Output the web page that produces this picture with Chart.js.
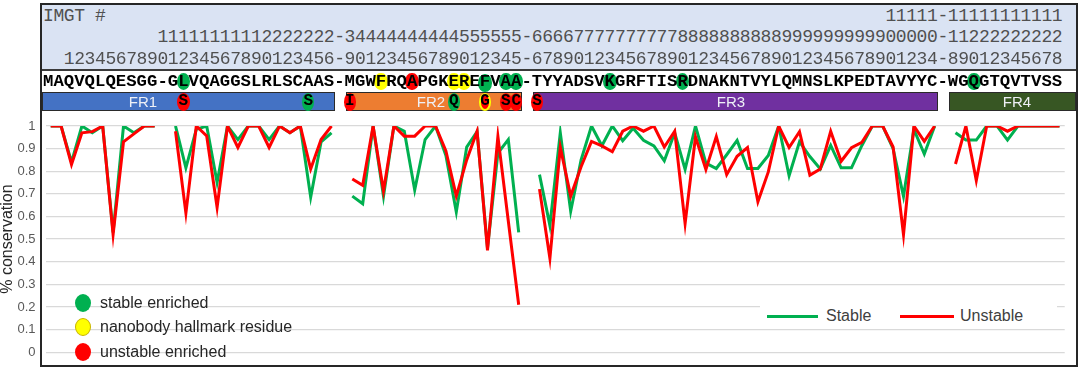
<!DOCTYPE html>
<html>
<head>
<meta charset="utf-8">
<script src="https://cdn.jsdelivr.net/npm/chart.js@4.4.1/dist/chart.umd.min.js"></script>
<style>
html,body{margin:0;padding:0;background:#fff;}
#wrap{position:relative;width:1080px;height:370px;overflow:hidden;font-family:"Liberation Sans",Arial,sans-serif;}
#c{position:absolute;left:0;top:0;}
.abs{position:absolute;}
.row{position:absolute;left:43px;white-space:nowrap;font-family:"Liberation Mono","Courier New",monospace;z-index:5;}
.ch{position:absolute;top:0;width:10.4px;text-align:center;}
.hdr{font-size:18px;color:#505050;}
.seq{font-size:17.3px;font-weight:bold;color:#000;}
.dot{position:absolute;border-radius:50%;z-index:4;}
.bar{position:absolute;box-sizing:border-box;border:1.5px solid #2a2a2a;z-index:2;}
.frlab{position:absolute;z-index:3;color:#eef0f6;font-size:15px;transform:translateX(-50%);line-height:19px;}
.mk{position:absolute;z-index:5;font-family:"Liberation Mono","Courier New",monospace;font-weight:bold;font-size:16px;color:#000;text-align:center;}
.leg{position:absolute;font-size:16px;color:#262626;line-height:20px;}
</style>
</head>
<body>
<div id="wrap">
<canvas id="c" width="1080" height="370"></canvas>
</div>
<script>
// ---------------- data ----------------
const categories = "MAQVQLQESGG-GLVQAGGSLRLSCAAS-MGWFRQAPGKEREFVAA-TYYADSVKGRFTISRDNAKNTVYLQMNSLKPEDTAVYYC-WGQGTQVTVSS".split('');

const stable = [
  1, 1, 0.84, 1, 0.97, 1, 0.53, 1, 0.97, 1, 1,
  null,
  1, 0.815, 0.985, 1, 0.75, 1, 0.94, 1, 1, 0.94, 1, 0.97, 1, 0.685, 0.93, 0.97,
  null,
  0.69, 0.656, 1, 0.689, 1, 0.977, 0.717, 0.94, 1, 0.87, 0.62, 0.907, 0.975, 0.46, 0.88, 0.94, 0.53,
  null,
  0.785, 0.56, 0.97, 0.623, 0.85, 1, 0.913, 1, 0.935, 0.99, 0.937, 0.912, 0.846, 0.97, 0.808, 1,
  0.836, 0.812, 0.873, 0.936, 0.812, 0.812, 0.87, 1, 0.78, 0.93, 0.865, 0.81, 0.914, 0.815, 0.815,
  0.914, 1, 1, 0.9, 0.689, 0.985, 0.876, 1,
  null,
  0.97, 0.938, 0.938, 1, 1, 0.938, 1, 1, 1, 1, 1
];

const unstable = [
  1, 1, 0.83, 0.97, 0.975, 1, 0.52, 0.93, 0.965, 1, 1,
  null,
  0.977, 0.615, 1, 0.956, 0.64, 1, 0.905, 1, 1, 0.905, 1, 0.97, 1, 0.81, 0.94, 1,
  null,
  0.766, 0.738, 1, 0.713, 1, 0.955, 0.955, 1, 1, 0.89, 0.69, 0.85, 0.977, 0.45, 0.954, 0.58, 0.21,
  null,
  0.721, 0.415, 0.905, 0.69, 0.82, 0.932, 0.912, 0.886, 0.977, 1, 0.977, 1, 0.907, 0.977, 0.569, 0.952,
  0.808, 0.953, 0.785, 0.866, 0.905, 0.665, 0.797, 1, 0.905, 0.975, 0.783, 0.81, 0.977, 0.844, 0.904,
  0.928, 1, 1, 0.907, 0.52, 1, 0.932, 1,
  null,
  0.832, 1, 0.759, 1, 1, 0.977, 1, 1, 1, 1, 1
];

const yTickLabels = ['0','0.1','0.2','0.3','0.4','0.5','0.6','0.7','0.8','0.9','1'];

const imgtRow1 = "IMGT #" + " ".repeat(75) + "11111-11111111111";
const imgtRow2 = "  " + " ".repeat(9) + "1111111111" + "2222222" + "-" + "34444444444555555" + "-" +
                 "666677777777778888888888999999999900000" + "-" + "11222222222";
const imgtRow3 = "  " + "12345678901234567890123456" + "-" + "90123456789012345" + "-" +
                 "678901234567890123456789012345678901234" + "-" + "89012345678";

// sequence-row highlights: [char index (1-based), kind]
const seqMarks = [[14,'s'],[33,'h'],[36,'u'],[40,'h'],[41,'h'],[43,'s'],[45,'s'],[46,'s'],[55,'s'],[62,'s'],[90,'s']];
// region-row residues: [char index, letter, kind, hallmark ring]
const barMarks = [[14,'S','u',0],[26,'S','s',0],[30,'I','u',0],[40,'Q','s',0],[43,'G','u',1],[45,'S','u',0],[46,'C','u',0],[48,'S','u',0]];
// framework regions: [name, first char, last char, colour, label centre]
const regions = [['FR1',1,28,'#4472c4',143],['FR2',30,46,'#ed7d31',431],['FR3',48,86,'#7030a0',731],['FR4',88,98,'#375623',1017]];

const markColors = {s:'#00b050', h:'#ffff00', u:'#ff0000'};
const legendItems = [['stable enriched','s'],['nanobody hallmark residue','h'],['unstable enriched','u']];
const seriesNames = ['Stable','Unstable'];

// ---------------- layout helpers ----------------
const W = 10.4, X0 = 43;
const wrap = document.getElementById('wrap');
const cc = c => X0 + (c - 0.5) * W;
function el(cls, css, txt){ const d=document.createElement('div'); d.className=cls; Object.assign(d.style, css); if(txt!==undefined) d.textContent=txt; wrap.appendChild(d); return d; }

// frame + header panel
el('abs', {left:'42px',top:'5px',width:'1034px',height:'64px',background:'#dae3f3',zIndex:1});
el('abs', {left:'42px',top:'69px',width:'1034px',height:'2px',background:'#3a3a3a',zIndex:1});

function buildRow(str, top, h, cls){
  const row = el('row '+cls, {top:top+'px',height:h+'px',lineHeight:h+'px'});
  for(let i=0;i<str.length;i++){
    if(str[i]===' ') continue;
    const s=document.createElement('span'); s.className='ch';
    s.style.left=(i*W)+'px'; s.style.height=h+'px'; s.textContent=str[i]; row.appendChild(s);
  }
}
buildRow(imgtRow1, 5.5, 21.3, 'hdr');
buildRow(imgtRow2, 27, 21.3, 'hdr');
buildRow(imgtRow3, 48.5, 21.3, 'hdr');
buildRow(categories.join(''), 71, 21, 'seq');

seqMarks.forEach(([c,k])=>{
  const w=13.5, h=17.5, cy = (c===43)?83:81.5;
  el('dot', {left:(cc(c)-w/2)+'px',top:(cy-h/2)+'px',width:w+'px',height:h+'px',background:markColors[k]});
});

regions.forEach(([name,a,b,col,lc])=>{
  const left = (a===1)?42:(X0+(a-1)*W+1);
  const right = (b===98)?1076:(X0+b*W+1);
  el('bar', {left:left+'px',top:'92px',width:(right-left)+'px',height:'19px',background:col});
  el('frlab', {left:lc+'px',top:'92px'}, name);
});

barMarks.forEach(([c,ch,k,ring])=>{
  const w=12.5, h=18;
  const d = el('dot', {left:(cc(c)-w/2)+'px',top:(101.5-h/2)+'px',width:w+'px',height:h+'px',background:markColors[k],
    boxSizing:'border-box', border: ring?'2px solid #ffff00':'none'});
  el('mk', {left:(cc(c)-W/2)+'px',top:'92px',width:W+'px',height:'19px',lineHeight:'19px'}, ch);
});

// left legend (marker key)
legendItems.forEach(([t,k],i)=>{
  const cy = [303,327,352][i];
  el('dot', {left:'75px',top:(cy-9)+'px',width:'16px',height:'18px',background:markColors[k],
    boxSizing:'border-box',border: k==='h'?'1px solid #c8b400':'none'});
  el('leg', {left:'100px',top:(cy-10)+'px'}, t);
});

// right legend (series key)
el('abs', {left:'760px',top:'305px',width:'297px',height:'22px',background:'#fff',zIndex:3});
el('abs', {left:'767px',top:'314.5px',width:'51px',height:'3px',background:'#00b050',zIndex:4});
el('abs', {left:'826px',top:'306px',fontSize:'16px',color:'#404040',lineHeight:'20px',zIndex:4}, seriesNames[0]);
el('abs', {left:'900px',top:'314.5px',width:'54px',height:'3px',background:'#ff0000',zIndex:4});
el('abs', {left:'960px',top:'306px',fontSize:'16px',color:'#404040',lineHeight:'20px',zIndex:4}, seriesNames[1]);

// outer frame
el('abs', {left:'40px',top:'3px',width:'1038px',height:'364px',border:'2px solid #262626',boxSizing:'border-box',zIndex:6});

// ---------------- chart ----------------
const FONT = '"Liberation Sans", Arial, sans-serif';
new Chart(document.getElementById('c'), {
  type: 'line',
  data: {
    labels: categories,
    datasets: [
      {label: seriesNames[0], data: stable, borderColor:'#00b050', backgroundColor:'#00b050', borderWidth:3, pointRadius:0, tension:0, spanGaps:false, order:2},
      {label: seriesNames[1], data: unstable, borderColor:'#ff0000', backgroundColor:'#ff0000', borderWidth:3, pointRadius:0, tension:0, spanGaps:false, order:1}
    ]
  },
  options: {
    responsive:false, animation:false, devicePixelRatio:1,
    layout:{padding:{left:0, top:126, right:15.3, bottom:8}},
    plugins:{legend:{display:false}, tooltip:{enabled:false}},
    elements:{line:{borderJoinStyle:'miter', borderCapStyle:'butt'}},
    scales:{
      x:{type:'category', display:false, offset:true},
      y:{
        min:0, max:1,
        ticks:{stepSize:0.1, padding:10, color:'#595959', font:{size:13, family:FONT},
               callback:(v)=>yTickLabels[Math.round(v*10)]},
        grid:{color:'#d9d9d9', lineWidth:1.3, drawTicks:false},
        border:{display:false},
        title:{display:true, text:'% conservation', color:'#262626', font:{size:16, family:FONT, lineHeight:1}, padding:{top:0,bottom:0}},
        afterFit:(s)=>{ s.width = 45.5; }
      }
    }
  }
});
</script>
</body>
</html>
